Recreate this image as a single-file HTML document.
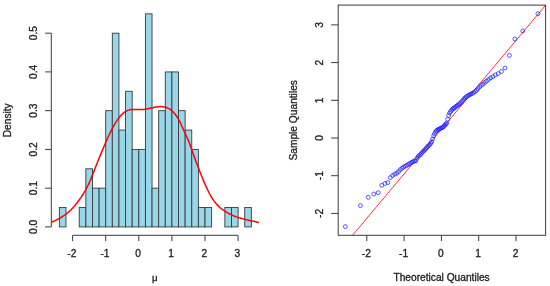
<!DOCTYPE html>
<html><head><meta charset="utf-8"><title>Histogram and Q-Q plot</title>
<style>html,body{margin:0;padding:0;background:#fff}svg{display:block}text{font-family:"Liberation Sans",Arial,sans-serif;font-size:10.2px;fill:#1a1a1a;stroke:#1a1a1a;stroke-width:0.3px}</style>
</head><body>
<svg width="550" height="286" viewBox="0 0 550 286">
<rect width="550" height="286" fill="#fff"/>
<defs><clipPath id="cl"><rect x="51.7" y="5.1" width="207.3" height="230.2"/></clipPath>
<clipPath id="cr"><rect x="338.2" y="5.1" width="207.4" height="230.2"/></clipPath></defs>
<g fill="#98d6e8" stroke="#3a3a3a" stroke-width="0.9">
<rect x="59.36" y="207.53" width="6.62" height="19.37"/>
<rect x="79.22" y="207.53" width="6.62" height="19.37"/>
<rect x="85.84" y="168.79" width="6.62" height="58.11"/>
<rect x="92.46" y="188.16" width="6.62" height="38.74"/>
<rect x="99.08" y="188.16" width="6.62" height="38.74"/>
<rect x="105.70" y="110.68" width="6.62" height="116.22"/>
<rect x="112.32" y="33.20" width="6.62" height="193.70"/>
<rect x="118.94" y="130.05" width="6.62" height="96.85"/>
<rect x="125.56" y="91.31" width="6.62" height="135.59"/>
<rect x="132.18" y="149.42" width="6.62" height="77.48"/>
<rect x="138.80" y="149.42" width="6.62" height="77.48"/>
<rect x="145.42" y="13.83" width="6.62" height="213.07"/>
<rect x="152.04" y="188.16" width="6.62" height="38.74"/>
<rect x="158.66" y="110.68" width="6.62" height="116.22"/>
<rect x="165.28" y="71.94" width="6.62" height="154.96"/>
<rect x="171.90" y="71.94" width="6.62" height="154.96"/>
<rect x="178.52" y="110.68" width="6.62" height="116.22"/>
<rect x="185.14" y="130.05" width="6.62" height="96.85"/>
<rect x="191.76" y="149.42" width="6.62" height="77.48"/>
<rect x="198.38" y="207.53" width="6.62" height="19.37"/>
<rect x="205.00" y="207.53" width="6.62" height="19.37"/>
<rect x="224.86" y="207.53" width="6.62" height="19.37"/>
<rect x="231.48" y="207.53" width="6.62" height="19.37"/>
<rect x="244.72" y="207.53" width="6.62" height="19.37"/>
</g>
<polyline clip-path="url(#cl)" points="51.0,222.4 52.0,222.0 53.0,221.5 54.0,221.1 55.0,220.7 56.0,220.2 57.0,219.7 58.0,219.2 59.0,218.7 60.0,218.1 61.0,217.5 62.0,216.9 63.0,216.2 64.0,215.5 65.0,214.8 66.0,214.1 67.0,213.3 68.0,212.5 69.0,211.6 70.0,210.7 71.0,209.7 72.0,208.7 73.0,207.7 74.0,206.6 75.0,205.5 76.0,204.3 77.0,203.1 77.9,201.8 78.9,200.4 79.9,199.0 80.9,197.6 81.9,196.0 82.9,194.5 83.9,192.8 84.9,191.1 85.9,189.3 86.9,187.4 87.9,185.5 88.9,183.4 89.9,181.2 90.9,178.9 91.9,176.4 92.9,173.9 93.9,171.4 94.9,168.8 95.9,166.3 96.9,163.8 97.9,161.3 98.9,158.8 99.9,156.3 100.9,153.9 101.9,151.5 102.9,149.1 103.9,146.7 104.9,144.3 105.9,142.0 106.9,139.7 107.9,137.5 108.9,135.3 109.9,133.2 110.9,131.2 111.9,129.2 112.9,127.3 113.9,125.5 114.9,123.8 115.9,122.1 116.9,120.6 117.9,119.1 118.9,117.8 119.9,116.6 120.9,115.4 121.9,114.4 122.9,113.5 123.9,112.7 124.9,111.9 125.9,111.3 126.9,110.8 127.9,110.4 128.9,110.1 129.8,109.8 130.8,109.6 131.8,109.5 132.8,109.4 133.8,109.4 134.8,109.4 135.8,109.4 136.8,109.5 137.8,109.5 138.8,109.5 139.8,109.6 140.8,109.6 141.8,109.6 142.8,109.5 143.8,109.4 144.8,109.3 145.8,109.1 146.8,109.0 147.8,108.8 148.8,108.6 149.8,108.3 150.8,108.1 151.8,107.9 152.8,107.7 153.8,107.5 154.8,107.3 155.8,107.1 156.8,106.9 157.8,106.8 158.8,106.7 159.8,106.6 160.8,106.6 161.8,106.6 162.8,106.7 163.8,106.9 164.8,107.1 165.8,107.3 166.8,107.7 167.8,108.1 168.8,108.6 169.8,109.2 170.8,109.9 171.8,110.7 172.8,111.6 173.8,112.7 174.8,113.8 175.8,115.1 176.8,116.5 177.8,118.1 178.8,119.8 179.8,121.6 180.8,123.6 181.7,125.8 182.7,128.0 183.7,130.3 184.7,132.5 185.7,134.6 186.7,136.7 187.7,138.9 188.7,141.3 189.7,143.9 190.7,146.7 191.7,149.6 192.7,152.4 193.7,155.2 194.7,158.0 195.7,160.7 196.7,163.4 197.7,166.0 198.7,168.6 199.7,171.2 200.7,173.7 201.7,176.2 202.7,178.7 203.7,181.1 204.7,183.4 205.7,185.7 206.7,187.9 207.7,190.0 208.7,192.1 209.7,194.0 210.7,195.8 211.7,197.5 212.7,199.1 213.7,200.6 214.7,201.9 215.7,203.2 216.7,204.3 217.7,205.4 218.7,206.4 219.7,207.3 220.7,208.2 221.7,209.0 222.7,209.7 223.7,210.4 224.7,211.1 225.7,211.7 226.7,212.3 227.7,212.9 228.7,213.4 229.7,214.0 230.7,214.4 231.7,214.9 232.7,215.4 233.6,215.8 234.6,216.2 235.6,216.6 236.6,216.9 237.6,217.3 238.6,217.6 239.6,217.9 240.6,218.2 241.6,218.5 242.6,218.8 243.6,219.0 244.6,219.3 245.6,219.5 246.6,219.8 247.6,220.0 248.6,220.2 249.6,220.4 250.6,220.7 251.6,220.9 252.6,221.1 253.6,221.3 254.6,221.5 255.6,221.7 256.6,222.0 257.6,222.2 258.6,222.4 259.6,222.7" fill="none" stroke="#f00" stroke-width="1.5" stroke-linejoin="round"/>
<g stroke="#3a3a3a" stroke-width="1" fill="none">
<path d="M72.6 235.3H238.1"/>
<path d="M72.6 235.3v5.8"/>
<path d="M105.7 235.3v5.8"/>
<path d="M138.8 235.3v5.8"/>
<path d="M171.9 235.3v5.8"/>
<path d="M205.0 235.3v5.8"/>
<path d="M238.1 235.3v5.8"/>
<path d="M51.3 226.9V33.2"/>
<path d="M51.3 226.9h-6.2"/>
<path d="M51.3 188.2h-6.2"/>
<path d="M51.3 149.4h-6.2"/>
<path d="M51.3 110.7h-6.2"/>
<path d="M51.3 71.9h-6.2"/>
<path d="M51.3 33.2h-6.2"/>
</g>
<text x="71.9" y="257.1" text-anchor="middle">-2</text>
<text x="105.0" y="257.1" text-anchor="middle">-1</text>
<text x="138.1" y="257.1" text-anchor="middle">0</text>
<text x="171.2" y="257.1" text-anchor="middle">1</text>
<text x="204.3" y="257.1" text-anchor="middle">2</text>
<text x="237.4" y="257.1" text-anchor="middle">3</text>
<text transform="translate(36.8 226.9) rotate(-90)" text-anchor="middle">0.0</text>
<text transform="translate(36.8 188.2) rotate(-90)" text-anchor="middle">0.1</text>
<text transform="translate(36.8 149.4) rotate(-90)" text-anchor="middle">0.2</text>
<text transform="translate(36.8 110.7) rotate(-90)" text-anchor="middle">0.3</text>
<text transform="translate(36.8 71.9) rotate(-90)" text-anchor="middle">0.4</text>
<text transform="translate(36.8 33.2) rotate(-90)" text-anchor="middle">0.5</text>
<text transform="translate(11.4 120.3) rotate(-90)" text-anchor="middle">Density</text>
<text x="154.7" y="281.1" text-anchor="middle" style="font-size:9.6px">μ</text>
<rect x="338.2" y="5.1" width="207.4" height="230.2" fill="none" stroke="#3a3a3a" stroke-width="1"/>
<g stroke="#3a3a3a" stroke-width="1" fill="none">
<path d="M366.8 235.3v5.8"/>
<path d="M404.1 235.3v5.8"/>
<path d="M441.4 235.3v5.8"/>
<path d="M478.7 235.3v5.8"/>
<path d="M516.0 235.3v5.8"/>
<path d="M338.2 213.4h-7"/>
<path d="M338.2 175.7h-7"/>
<path d="M338.2 138.0h-7"/>
<path d="M338.2 100.3h-7"/>
<path d="M338.2 62.6h-7"/>
<path d="M338.2 24.9h-7"/>
</g>
<text x="366.3" y="257.1" text-anchor="middle">-2</text>
<text x="403.6" y="257.1" text-anchor="middle">-1</text>
<text x="440.9" y="257.1" text-anchor="middle">0</text>
<text x="478.2" y="257.1" text-anchor="middle">1</text>
<text x="515.5" y="257.1" text-anchor="middle">2</text>
<text transform="translate(322.8 213.4) rotate(-90)" text-anchor="middle">-2</text>
<text transform="translate(322.8 175.7) rotate(-90)" text-anchor="middle">-1</text>
<text transform="translate(322.8 138.0) rotate(-90)" text-anchor="middle">0</text>
<text transform="translate(322.8 100.3) rotate(-90)" text-anchor="middle">1</text>
<text transform="translate(322.8 62.6) rotate(-90)" text-anchor="middle">2</text>
<text transform="translate(322.8 24.9) rotate(-90)" text-anchor="middle">3</text>
<text transform="translate(297.3 120.3) rotate(-90)" text-anchor="middle">Sample Quantiles</text>
<text x="441.6" y="281.1" text-anchor="middle">Theoretical Quantiles</text>
<path clip-path="url(#cr)" d="M352.3 235.6L545.5 5.3" stroke="#f00" stroke-width="0.8" fill="none"/>
<g fill="none" stroke="#2222ff" stroke-width="0.75">
<circle cx="345.3" cy="226.6" r="1.95"/>
<circle cx="360.4" cy="205.6" r="1.95"/>
<circle cx="368.3" cy="197.3" r="1.95"/>
<circle cx="373.8" cy="194.0" r="1.95"/>
<circle cx="378.2" cy="192.7" r="1.95"/>
<circle cx="381.8" cy="185.3" r="1.95"/>
<circle cx="385.0" cy="183.5" r="1.95"/>
<circle cx="387.8" cy="182.6" r="1.95"/>
<circle cx="390.3" cy="177.6" r="1.95"/>
<circle cx="392.6" cy="175.5" r="1.95"/>
<circle cx="394.7" cy="174.2" r="1.95"/>
<circle cx="396.7" cy="173.2" r="1.95"/>
<circle cx="398.6" cy="171.6" r="1.95"/>
<circle cx="400.3" cy="169.6" r="1.95"/>
<circle cx="402.0" cy="168.3" r="1.95"/>
<circle cx="403.6" cy="167.1" r="1.95"/>
<circle cx="405.2" cy="166.2" r="1.95"/>
<circle cx="406.6" cy="165.4" r="1.95"/>
<circle cx="408.1" cy="164.6" r="1.95"/>
<circle cx="409.5" cy="163.8" r="1.95"/>
<circle cx="410.8" cy="162.8" r="1.95"/>
<circle cx="412.1" cy="162.2" r="1.95"/>
<circle cx="413.3" cy="161.6" r="1.95"/>
<circle cx="414.6" cy="160.9" r="1.95"/>
<circle cx="415.8" cy="160.8" r="1.95"/>
<circle cx="417.0" cy="158.3" r="1.95"/>
<circle cx="418.1" cy="156.5" r="1.95"/>
<circle cx="419.2" cy="155.6" r="1.95"/>
<circle cx="420.4" cy="154.6" r="1.95"/>
<circle cx="421.4" cy="153.4" r="1.95"/>
<circle cx="422.5" cy="152.1" r="1.95"/>
<circle cx="423.6" cy="151.0" r="1.95"/>
<circle cx="424.6" cy="150.0" r="1.95"/>
<circle cx="425.7" cy="148.9" r="1.95"/>
<circle cx="426.7" cy="147.7" r="1.95"/>
<circle cx="427.7" cy="146.5" r="1.95"/>
<circle cx="428.7" cy="145.7" r="1.95"/>
<circle cx="429.7" cy="144.5" r="1.95"/>
<circle cx="430.7" cy="143.3" r="1.95"/>
<circle cx="431.6" cy="141.9" r="1.95"/>
<circle cx="432.6" cy="139.1" r="1.95"/>
<circle cx="433.6" cy="135.8" r="1.95"/>
<circle cx="434.5" cy="133.8" r="1.95"/>
<circle cx="435.5" cy="131.9" r="1.95"/>
<circle cx="436.4" cy="130.8" r="1.95"/>
<circle cx="437.4" cy="130.1" r="1.95"/>
<circle cx="438.3" cy="129.5" r="1.95"/>
<circle cx="439.3" cy="129.0" r="1.95"/>
<circle cx="440.2" cy="128.6" r="1.95"/>
<circle cx="441.1" cy="128.1" r="1.95"/>
<circle cx="442.1" cy="127.6" r="1.95"/>
<circle cx="443.0" cy="127.2" r="1.95"/>
<circle cx="443.9" cy="126.3" r="1.95"/>
<circle cx="444.9" cy="125.0" r="1.95"/>
<circle cx="445.8" cy="124.1" r="1.95"/>
<circle cx="446.8" cy="123.1" r="1.95"/>
<circle cx="447.7" cy="119.3" r="1.95"/>
<circle cx="448.7" cy="115.5" r="1.95"/>
<circle cx="449.6" cy="113.0" r="1.95"/>
<circle cx="450.6" cy="111.5" r="1.95"/>
<circle cx="451.6" cy="110.3" r="1.95"/>
<circle cx="452.5" cy="109.2" r="1.95"/>
<circle cx="453.5" cy="108.2" r="1.95"/>
<circle cx="454.5" cy="108.0" r="1.95"/>
<circle cx="455.5" cy="106.8" r="1.95"/>
<circle cx="456.5" cy="106.1" r="1.95"/>
<circle cx="457.5" cy="105.4" r="1.95"/>
<circle cx="458.6" cy="104.7" r="1.95"/>
<circle cx="459.6" cy="103.8" r="1.95"/>
<circle cx="460.7" cy="102.8" r="1.95"/>
<circle cx="461.8" cy="101.6" r="1.95"/>
<circle cx="462.8" cy="100.5" r="1.95"/>
<circle cx="464.0" cy="99.1" r="1.95"/>
<circle cx="465.1" cy="97.9" r="1.95"/>
<circle cx="466.2" cy="96.9" r="1.95"/>
<circle cx="467.4" cy="96.1" r="1.95"/>
<circle cx="468.6" cy="95.3" r="1.95"/>
<circle cx="469.9" cy="94.6" r="1.95"/>
<circle cx="471.1" cy="94.0" r="1.95"/>
<circle cx="472.4" cy="93.3" r="1.95"/>
<circle cx="473.7" cy="92.5" r="1.95"/>
<circle cx="475.1" cy="91.5" r="1.95"/>
<circle cx="476.6" cy="90.3" r="1.95"/>
<circle cx="478.0" cy="88.6" r="1.95"/>
<circle cx="479.6" cy="86.7" r="1.95"/>
<circle cx="481.2" cy="85.4" r="1.95"/>
<circle cx="482.9" cy="84.2" r="1.95"/>
<circle cx="484.6" cy="82.6" r="1.95"/>
<circle cx="486.5" cy="81.1" r="1.95"/>
<circle cx="488.5" cy="79.5" r="1.95"/>
<circle cx="490.6" cy="77.9" r="1.95"/>
<circle cx="492.9" cy="76.6" r="1.95"/>
<circle cx="495.4" cy="75.0" r="1.95"/>
<circle cx="498.2" cy="73.6" r="1.95"/>
<circle cx="501.4" cy="71.5" r="1.95"/>
<circle cx="505.0" cy="68.0" r="1.95"/>
<circle cx="509.4" cy="55.4" r="1.95"/>
<circle cx="514.9" cy="39.0" r="1.95"/>
<circle cx="522.8" cy="31.0" r="1.95"/>
<circle cx="537.9" cy="13.7" r="1.95"/>
</g>
</svg></body></html>
